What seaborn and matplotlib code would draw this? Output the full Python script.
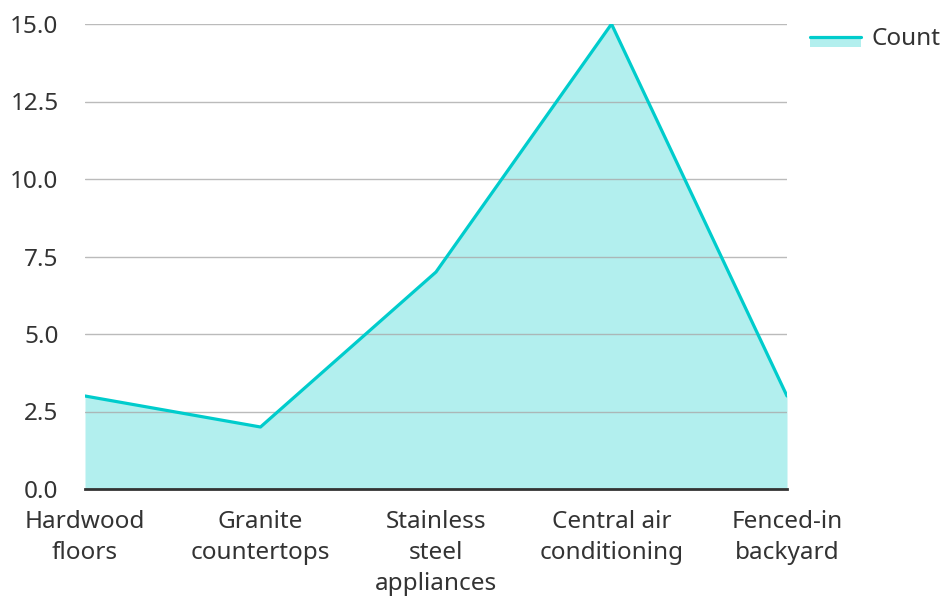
import matplotlib
matplotlib.use("Agg")
import matplotlib.pyplot as plt
import seaborn as sns
import pandas as pd
from matplotlib.legend_handler import HandlerBase
from matplotlib.patches import Rectangle
from matplotlib.lines import Line2D

categories = ["Hardwood floors", "Granite countertops", "Stainless steel appliances",
              "Central air conditioning", "Fenced-in backyard"]
tick_labels = ["Hardwood\nfloors", "Granite\ncountertops", "Stainless\nsteel\nappliances",
               "Central air\nconditioning", "Fenced-in\nbackyard"]
counts = [3, 2, 7, 15, 3]
y_ticks = [0.0, 2.5, 5.0, 7.5, 10.0, 12.5, 15.0]
series_name = "Count"

LINE = "#00cccc"
FILL = "#b2efee"
TEXT = "#333333"

sns.set_theme(style="white")
plt.rcParams["font.family"] = ["Noto Sans", "DejaVu Sans"]

df = pd.DataFrame({"cat": categories, "val": counts})

fig = plt.figure(figsize=(9.45, 5.97), dpi=100)
ax = fig.add_axes([85/945, 1 - 489/597, (787-85)/945, (489-24)/597])

ax.fill_between(range(len(categories)), df["val"], 0, color=FILL, lw=0, zorder=1)
sns.lineplot(data=df, x=range(len(categories)), y="val", ax=ax, color=LINE, lw=2.3,
             zorder=3, legend=False)

ax.set_xlim(0, len(categories) - 1)
ax.set_ylim(0, 15)
ax.set_yticks(y_ticks)
ax.set_yticklabels([f"{v:.1f}" for v in y_ticks])
ax.set_xticks(range(len(categories)))
ax.set_xticklabels(tick_labels, linespacing=1.38)
ax.set_xlabel("")
ax.set_ylabel("")
ax.yaxis.grid(True, color="#aaaaaa", lw=1, alpha=0.8, zorder=2)
ax.set_axisbelow(False)
for s in ["top", "right", "left"]:
    ax.spines[s].set_visible(False)
ax.spines["bottom"].set_color(TEXT)
ax.spines["bottom"].set_linewidth(2)
ax.spines["bottom"].set_zorder(4)
ax.tick_params(axis="both", length=0, labelsize=17.5, colors=TEXT)
ax.tick_params(axis="y", pad=19)
ax.tick_params(axis="x", pad=15)


class AreaHandler(HandlerBase):
    def create_artists(self, legend, orig_handle, xdescent, ydescent, width, height,
                       fontsize, trans):
        mid = -ydescent + height / 2
        r = Rectangle((-xdescent, mid - height / 2), width, height / 2, facecolor=FILL,
                      edgecolor="none", transform=trans)
        l = Line2D([-xdescent, -xdescent + width], [mid, mid],
                   color=LINE, lw=2.3, transform=trans)
        return [r, l]


handle = Rectangle((0, 0), 1, 1)
leg = fig.legend([handle], [series_name], handler_map={Rectangle: AreaHandler()},
                 loc="upper left", bbox_to_anchor=(800/945, 1 - 16/597), frameon=False,
                 fontsize=17.5, handlelength=2.1, handleheight=1.0, handletextpad=0.45,
                 labelcolor=TEXT, borderaxespad=0)

fig.savefig("out.png", dpi=100)
